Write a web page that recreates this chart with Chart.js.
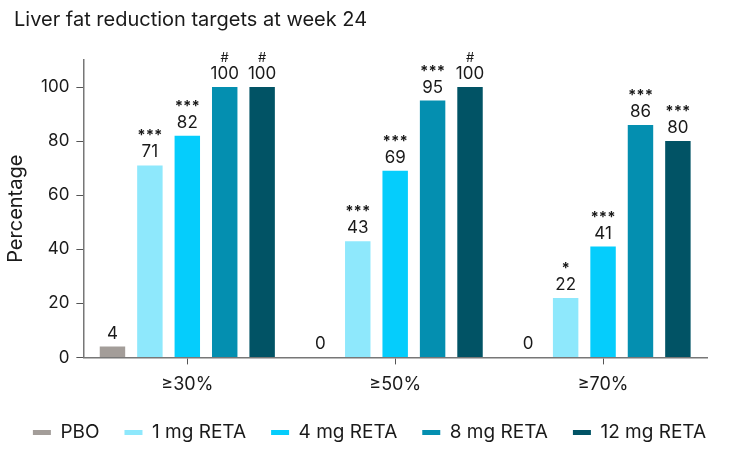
<!DOCTYPE html>
<html lang="en">
<head>
<meta charset="UTF-8">
<title>Liver fat reduction targets</title>
<style>
  body { margin: 0; background: #fff; }
  #wrap { width: 733px; height: 450px; }
</style>
</head>
<body>
<div id="wrap"><canvas id="myChart"></canvas></div>
<script src="https://cdn.jsdelivr.net/npm/chart.js@4"></script>
<script>
const categories = ['≥30%', '≥50%', '≥70%'];
const seriesNames = ['PBO', '1 mg RETA', '4 mg RETA', '8 mg RETA', '12 mg RETA'];
const pbo = [4, 0, 0];
const reta1 = [71, 43, 22];
const reta4 = [82, 69, 41];
const reta8 = [100, 95, 86];
const reta12 = [100, 100, 80];
const pboMarks = ['', '', ''];
const reta1Marks = ['***', '***', '*'];
const reta4Marks = ['***', '***', '***'];
const reta8Marks = ['#', '***', '***'];
const reta12Marks = ['#', '#', '***'];
const colors = ['#a39d99', '#8ee8fc', '#05cdfc', '#048fb0', '#015365'];

const values = [pbo, reta1, reta4, reta8, reta12];
const marks = [pboMarks, reta1Marks, reta4Marks, reta8Marks, reta12Marks];

const fontFamily = 'Inter, "Open Sans", sans-serif';

// draws value + significance marks above each bar
const barLabels = {
    id: 'barLabels',
    afterDatasetsDraw(chart) {
        const ctx = chart.ctx;
        ctx.save();
        ctx.textAlign = 'center';
        ctx.textBaseline = 'alphabetic';
        ctx.fillStyle = '#1a1a1a';
        chart.data.datasets.forEach((ds, i) => {
            const meta = chart.getDatasetMeta(i);
            meta.data.forEach((bar, j) => {
                ctx.font = '17px ' + fontFamily;
                ctx.fillText(String(ds.data[j]), bar.x, bar.y - 8);
                const m = ds.marks[j];
                if (m === '#') {
                    ctx.font = '13px ' + fontFamily;
                    ctx.fillText(m, bar.x, bar.y - 25);
                } else if (m) {
                    ctx.font = 'bold 15px ' + fontFamily;
                    ctx.fillText(m, bar.x, bar.y - 25);
                }
            });
        });
        ctx.restore();
    }
};

const ctx = document.getElementById('myChart').getContext('2d');
const chart = new Chart(ctx, {
    type: 'bar',
    data: {
        labels: categories,
        datasets: seriesNames.map((name, i) => ({
            label: name,
            data: values[i],
            marks: marks[i],
            backgroundColor: colors[i],
            borderColor: colors[i],
            borderWidth: 0,
            barPercentage: 0.68,
            categoryPercentage: 0.9
        }))
    },
    options: {
        responsive: true,
        maintainAspectRatio: false,
        animation: false,
        layout: { padding: { left: 6, right: 0, top: 0, bottom: -2 } },
        plugins: {
            title: {
                display: true,
                text: 'Liver fat reduction targets at week 24',
                align: 'start',
                color: '#1a1a1a',
                font: { family: fontFamily, size: 20, weight: 'normal' },
                padding: { top: 8, bottom: 28 }
            },
            legend: {
                position: 'bottom',
                labels: {
                    color: '#1a1a1a',
                    font: { family: fontFamily, size: 19 },
                    boxWidth: 18,
                    boxHeight: 5,
                    padding: 25
                }
            },
            tooltip: { enabled: false }
        },
        scales: {
            x: {
                border: { color: '#777', width: 1.5 },
                grid: { drawOnChartArea: false, tickLength: 7, color: '#555', offset: false },
                ticks: { color: '#1a1a1a', font: { family: fontFamily, size: 18 }, padding: 9 },
                afterFit(scale) { scale.height -= 6; }
            },
            y: {
                min: 0,
                max: 110,
                title: {
                    display: true,
                    text: 'Percentage',
                    color: '#1a1a1a',
                    font: { family: fontFamily, size: 20 },
                    padding: { top: -2, bottom: 6 }
                },
                border: { color: '#777', width: 1.5 },
                grid: { drawOnChartArea: false, tickLength: 7, color: '#555' },
                ticks: {
                    stepSize: 20,
                    color: '#1a1a1a',
                    font: { family: fontFamily, size: 17 },
                    padding: 7,
                    callback: v => (v % 20 === 0 ? v : null)
                }
            },
            // empty spacer on the right so the legend can use the full width
            spacer: {
                type: 'linear',
                position: 'right',
                border: { display: false },
                grid: { display: false },
                ticks: { display: false },
                afterFit(scale) { scale.width = 26; }
            }
        }
    },
    plugins: [barLabels]
});

// nudge the title a little to the right without shrinking the legend row
const drawTitle = chart.titleBlock.draw;
chart.titleBlock.draw = function () {
    this.ctx.save();
    this.ctx.translate(8, 0);
    drawTitle.apply(this, arguments);
    this.ctx.restore();
};
chart.draw();
</script>
</body>
</html>
